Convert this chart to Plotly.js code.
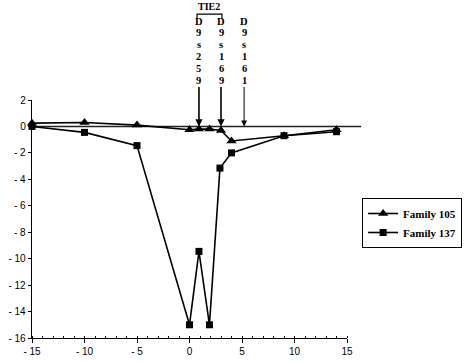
<!DOCTYPE html>
<html>
<head>
<meta charset="utf-8">
<script src="https://cdn.plot.ly/plotly-3.0.1.min.js"></script>
<style>html,body{margin:0;padding:0;background:#fff;}#chart{width:474px;height:362px;}</style>
</head>
<body>
<div id="chart"></div>
<script>
// Data
const fam105X = [-15, -10, -5, 0, 0.9, 1.9, 3, 4, 9, 14];
const fam105Y = [0.25, 0.3, 0.1, -0.25, -0.2, -0.2, -0.3, -1.1, -0.7, -0.25];
const fam137X = [-15, -10, -5, 0, 0.9, 1.9, 2.9, 4, 9, 14];
const fam137Y = [0, -0.45, -1.45, -15, -9.45, -15, -3.15, -2.0, -0.7, -0.4];
const seriesNames = ["Family 105", "Family 137"];

const xTickVals = [-15, -10, -5, 0, 5, 10, 15];
const xTickText = ["- 15", "- 10", "- 5", "0", "5", "10", "15"];
const yTickVals = [2, 0, -2, -4, -6, -8, -10, -12, -14, -16];
const yTickText = ["2", "0", "- 2", "- 4", "- 6", "- 8", "- 10", "- 12", "- 14", "- 16"];

const markerNames = ["D9s259", "D9s169", "D9s161"];
const markerPos = [0.9, 3, 5.2];
const geneName = "TIE2";

const serif = "Liberation Serif, Times New Roman, serif";
const sans = "Liberation Sans, Arial, sans-serif";

const traces = [
  {x: fam105X, y: fam105Y, name: seriesNames[0], mode: "lines+markers", cliponaxis: false,
   line: {color: "#000", width: 1.6}, marker: {symbol: "triangle-up", size: 9, color: "#000"}},
  {x: fam137X, y: fam137Y, name: seriesNames[1], mode: "lines+markers", cliponaxis: false,
   line: {color: "#000", width: 1.6}, marker: {symbol: "square", size: 7, color: "#000"}}
];

// vertical letter columns: first letter centre at ~21px from the top, 11.8px apart
const letterTop = (338 - 21) / 238;
const letterStep = 11.8;
const annotations = [];
markerNames.forEach((nm, i) => {
  nm.split("").forEach((ch, k) => {
    annotations.push({
      x: markerPos[i], xref: "x", y: letterTop, yref: "paper", yanchor: "middle", xanchor: "center",
      yshift: -k * letterStep, showarrow: false, text: "<b>" + ch + "</b>",
      font: {family: serif, size: 10.5, color: "#000"}
    });
  });
  annotations.push({
    x: markerPos[i], xref: "x", y: 0, yref: "y", ax: 0, ay: -41, axref: "pixel", ayref: "pixel",
    showarrow: true, arrowhead: 2, arrowsize: i < 2 ? 0.9 : 1.2, arrowwidth: i < 2 ? 1.6 : 1,
    arrowcolor: "#000", text: ""
  });
});
annotations.push({
  x: 1.9, xref: "x", y: (338 - 6.5) / 238, yref: "paper", yanchor: "middle", xanchor: "center",
  showarrow: false, text: "<b>" + geneName + "</b>",
  font: {family: serif, size: 10, color: "#000"}
});

const shapes = [
  {type: "line", xref: "paper", yref: "y", x0: 0, x1: 1.045, y0: 0, y1: 0,
   line: {color: "#222", width: 1.6}, layer: "below"},
  {type: "path", xref: "paper", yref: "paper",
   path: "M 0.524 1.340 L 0.524 1.361 L 0.603 1.361 L 0.603 1.340",
   line: {color: "#000", width: 1.2}}
];

const layout = {
  width: 474, height: 362,
  margin: {l: 32, r: 112, t: 100, b: 24, pad: 0},
  paper_bgcolor: "#fff", plot_bgcolor: "#fff",
  showlegend: true,
  legend: {x: 1.048, xanchor: "left", y: (338 - 223) / 238, yanchor: "middle",
    bordercolor: "#000", borderwidth: 1, bgcolor: "#fff",
    font: {family: serif, size: 11, color: "#000", weight: "bold"},
    itemwidth: 30, tracegroupgap: 0},
  xaxis: {range: [-15, 15], showgrid: false, zeroline: false,
    showline: true, linecolor: "#000", linewidth: 1.3,
    tickmode: "array", tickvals: xTickVals, ticktext: xTickText,
    ticks: "outside", ticklen: 4, tickcolor: "#000", tickwidth: 1,
    minor: {dtick: 1, ticks: "inside", ticklen: 2, tickcolor: "#000", showgrid: false},
    tickfont: {family: sans, size: 10, color: "#000"}},
  yaxis: {range: [-16, 2], showgrid: false, zeroline: false,
    showline: true, linecolor: "#000", linewidth: 1.3,
    tickmode: "array", tickvals: yTickVals, ticktext: yTickText,
    ticks: "outside", ticklen: 3, tickcolor: "#000", tickwidth: 1,
    tickfont: {family: sans, size: 10, color: "#000"}},
  annotations: annotations,
  shapes: shapes
};

Plotly.newPlot("chart", traces, layout, {displayModeBar: false, staticPlot: true});
</script>
</body>
</html>
